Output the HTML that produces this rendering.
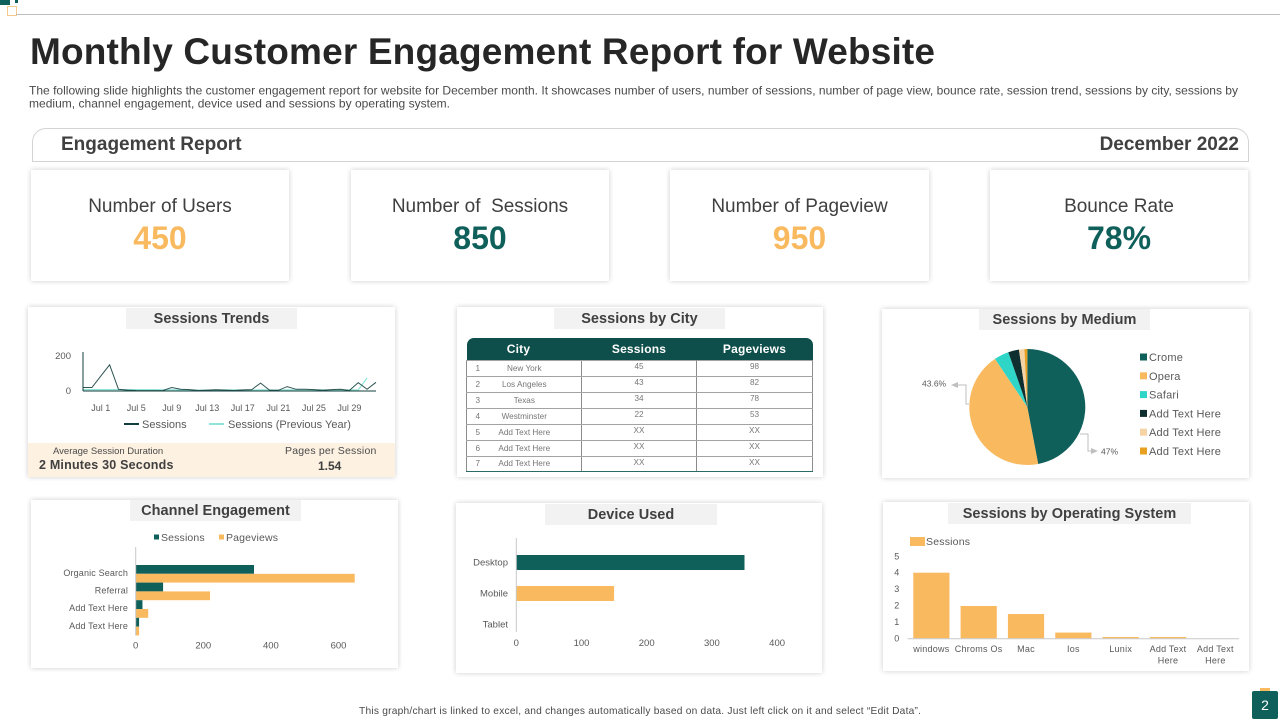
<!DOCTYPE html>
<html lang="en">
<head>
<meta charset="utf-8">
<title>Monthly Customer Engagement Report for Website</title>
<style>
html,body{margin:0;padding:0;background:#fff;}
body{width:1280px;height:720px;position:relative;overflow:hidden;font-family:"Liberation Sans",sans-serif;color:#404040;}
.abs{position:absolute;white-space:nowrap;}
.panel{position:absolute;background:#fff;box-shadow:0 0 5px rgba(0,0,0,.2);}
.ttl{position:absolute;background:#f2f2f2;font-weight:bold;font-size:14.5px;letter-spacing:.03px;color:#404040;text-align:center;line-height:22px;height:21px;white-space:nowrap;}
.card{position:absolute;top:170px;height:111px;background:#fff;box-shadow:0 0 5px rgba(0,0,0,.2);text-align:center;}
.card .lb{position:absolute;left:0;right:0;top:26px;font-size:19px;line-height:22px;color:#404040;white-space:pre;}
.card .vl{position:absolute;left:0;right:0;top:49px;font-size:32px;line-height:38px;font-weight:bold;}
svg.full{position:absolute;left:0;top:0;width:1280px;height:720px;overflow:visible;}
table{position:absolute;left:466px;top:338px;width:346px;border-collapse:collapse;table-layout:fixed;font-size:8.2px;color:#777;}
th{background:#0f4f4b;color:#fff;font-size:12px;font-weight:bold;height:22px;padding:0;letter-spacing:.2px;}
th:first-child{border-top-left-radius:7px;}
th:last-child{border-top-right-radius:7px;}
td{height:15px;padding:0;text-align:center;border-top:1px solid #a3a3a3;border-bottom:1px solid #a3a3a3;line-height:10px;}
td.v{border-left:1px solid #8c8c8c;border-right:1px solid #8c8c8c;vertical-align:top;padding-top:1px;height:14px;}
td.i{border-left:1px solid #8c8c8c;}
tr:last-child td{border-bottom:1px solid #2c6a66;height:14px;}
tr:last-child td.v{height:13px;}
</style>
</head>
<body>

<div class="abs" style="left:0;top:0;width:10px;height:5px;background:#0f5f5a;"></div>
<div class="abs" style="left:15px;top:0;width:3px;height:3px;background:#0f5f5a;"></div>
<div class="abs" style="left:7px;top:6px;width:8px;height:8px;border:1px solid #f5c98a;"></div>
<div class="abs" style="left:16px;top:14px;width:1264px;height:1px;background:#bdbdbd;"></div>

<svg class="full" viewBox="0 0 1280 720">
  <text x="30" y="64" font-size="37" font-weight="bold" fill="#262626" textLength="905" lengthAdjust="spacing">Monthly Customer Engagement Report for Website</text>
  <text x="29" y="94.5" font-size="12" fill="#4a4a4a" textLength="1209" lengthAdjust="spacing">The following slide highlights the customer engagement report for website for December month. It showcases number of users, number of sessions, number of page view, bounce rate, session trend, sessions by city,  sessions by</text>
  <text x="29" y="107.5" font-size="12" fill="#4a4a4a" textLength="421" lengthAdjust="spacing">medium, channel engagement, device used and sessions by operating system.</text>
  <text x="359" y="714" font-size="10.2" fill="#4a4a4a" textLength="562" lengthAdjust="spacing">This graph/chart is linked to excel, and changes automatically based on data. Just left click on it and select “Edit Data”.</text>
</svg>

<div class="abs" style="left:32px;top:128px;width:1215px;height:32px;border:1px solid #d4d4d4;border-radius:14px 14px 0 0;"></div>
<div class="abs" style="left:61px;top:133px;font-size:19px;line-height:24px;font-weight:bold;color:#404040;">Engagement Report</div>
<div class="abs" style="right:41px;top:133px;font-size:19px;line-height:24px;font-weight:bold;color:#404040;">December 2022</div>

<div class="card" style="left:31px;width:258px;">
  <div class="lb">Number of Users</div>
  <div class="vl" style="color:#f9b95f;">450</div>
</div>
<div class="card" style="left:351px;width:258px;">
  <div class="lb">Number of  Sessions</div>
  <div class="vl" style="color:#0f5f5a;">850</div>
</div>
<div class="card" style="left:670px;width:259px;">
  <div class="lb">Number of Pageview</div>
  <div class="vl" style="color:#f9b95f;">950</div>
</div>
<div class="card" style="left:990px;width:258px;">
  <div class="lb">Bounce Rate</div>
  <div class="vl" style="color:#0f5f5a;">78%</div>
</div>

<div class="panel" style="left:28px;top:307px;width:367px;height:170px;"></div>
<div class="abs" style="left:28px;top:443px;width:367px;height:34px;background:#fdf1e1;"></div>
<div class="ttl" style="left:126px;top:308px;width:171px;">Sessions Trends</div>
<div class="abs" style="left:53px;top:446px;font-size:9.5px;line-height:12px;color:#4a4a4a;">Average Session Duration</div>
<div class="abs" style="left:39px;top:458px;font-size:12.5px;line-height:15px;font-weight:bold;letter-spacing:.2px;color:#404040;">2 Minutes 30 Seconds</div>
<div class="abs" style="left:285px;top:445px;font-size:10.5px;line-height:13px;letter-spacing:.2px;color:#4a4a4a;">Pages per Session</div>
<div class="abs" style="left:318px;top:459px;font-size:12px;line-height:15px;font-weight:bold;color:#404040;">1.54</div>

<div class="panel" style="left:457px;top:307px;width:366px;height:170px;"></div>
<div class="ttl" style="left:554px;top:308px;width:171px;">Sessions by City</div>
<table>
  <colgroup><col style="width:22px"><col style="width:93px"><col style="width:115px"><col style="width:116px"></colgroup>
  <tr>
    <th colspan="2" style="padding-right:11px;">City</th>
    <th>Sessions</th>
    <th>Pageviews</th>
  </tr>
  <tr><td class="i">1</td><td style="padding-right:21px">New York</td><td class="v">45</td><td class="v">98</td></tr>
  <tr><td class="i">2</td><td style="padding-right:21px">Los Angeles</td><td class="v">43</td><td class="v">82</td></tr>
  <tr><td class="i">3</td><td style="padding-right:21px">Texas</td><td class="v">34</td><td class="v">78</td></tr>
  <tr><td class="i">4</td><td style="padding-right:21px">Westminster</td><td class="v">22</td><td class="v">53</td></tr>
  <tr><td class="i">5</td><td style="padding-right:21px">Add Text Here</td><td class="v">XX</td><td class="v">XX</td></tr>
  <tr><td class="i">6</td><td style="padding-right:21px">Add Text Here</td><td class="v">XX</td><td class="v">XX</td></tr>
  <tr><td class="i">7</td><td style="padding-right:21px">Add Text Here</td><td class="v">XX</td><td class="v">XX</td></tr>
</table>

<div class="panel" style="left:882px;top:309px;width:367px;height:169px;"></div>
<div class="ttl" style="left:979px;top:309px;width:171px;">Sessions by Medium</div>

<div class="panel" style="left:31px;top:500px;width:367px;height:168px;"></div>
<div class="ttl" style="left:130px;top:500px;width:171px;">Channel Engagement</div>

<div class="panel" style="left:456px;top:503px;width:366px;height:170px;"></div>
<div class="ttl" style="left:545px;top:504px;width:172px;line-height:23px;">Device Used</div>

<div class="panel" style="left:883px;top:502px;width:366px;height:169px;"></div>
<div class="ttl" style="left:948px;top:503px;width:243px;">Sessions by Operating System</div>

<svg class="full" id="trend" viewBox="0 0 1280 720"></svg>
<svg class="full" id="pie" viewBox="0 0 1280 720"></svg>
<svg class="full" id="channel" viewBox="0 0 1280 720"></svg>
<svg class="full" id="device" viewBox="0 0 1280 720"></svg>
<svg class="full" id="os" viewBox="0 0 1280 720"></svg>

<div class="abs" style="left:1260px;top:688px;width:10px;height:3px;background:#f9b95f;"></div>
<div class="abs" style="left:1252px;top:691px;width:26px;height:28px;background:#0f5f5a;color:#fff;font-size:14px;line-height:28px;text-align:center;border-radius:2px;">2</div>

<script>
/* Sessions trends */
const trendDates = ['Jun 29','Jun 30','Jul 1','Jul 2','Jul 3','Jul 4','Jul 5','Jul 6','Jul 7','Jul 8','Jul 9','Jul 10','Jul 11','Jul 12','Jul 13','Jul 14','Jul 15','Jul 16','Jul 17','Jul 18','Jul 19','Jul 20','Jul 21','Jul 22','Jul 23','Jul 24','Jul 25','Jul 26','Jul 27','Jul 28','Jul 29','Jul 30','Jul 31','Aug 1'];
const trendSessions = [20,20,85,150,10,5,3,2,2,3,20,10,8,3,5,7,5,3,6,8,45,5,4,25,10,10,8,4,8,10,3,48,10,50];
const trendPrevious = [8,8,8,8,8,8,8,8,8,7,7,6,6,5,5,6,7,6,5,5,6,6,5,6,7,7,6,6,5,5,6,5,75];
const trendTicks = ['Jul 1','Jul 5','Jul 9','Jul 13','Jul 17','Jul 21','Jul 25','Jul 29'];
const trendYTicks = [0,200];
/* Sessions by medium */
const mediumNames = ['Crome','Opera','Safari','Add Text Here','Add Text Here','Add Text Here'];
const mediumShares = [47,43.6,4.1,3,1.5,0.8];
/* Channel engagement */
const channelNames = ['Organic Search','Referral','Add Text Here','Add Text Here'];
const channelSessions = [350,81,20,10];
const channelPageviews = [648,220,37,10];
const channelTicks = [0,200,400,600];
/* Device used */
const deviceNames = ['Desktop','Mobile','Tablet'];
const deviceValues = [350,150,0];
const deviceTicks = [0,100,200,300,400];
/* Sessions by operating system */
const osNames = [['windows'],['Chroms Os'],['Mac'],['Ios'],['Lunix'],['Add Text','Here'],['Add Text','Here']];
const osValues = [4,1.97,1.48,0.35,0.08,0.08,0];
const osTicks = [0,1,2,3,4,5];

const NS = 'http://www.w3.org/2000/svg';
const TEAL = '#0f5f5a', ORANGE = '#f9b95f', GREY = '#595959';
function mk(parent, tag, attrs, text) {
  const el = document.createElementNS(NS, tag);
  for (const k in attrs) el.setAttribute(k, attrs[k]);
  if (text !== undefined) el.textContent = text;
  parent.appendChild(el);
  return el;
}

/* ---------- Trend line chart ---------- */
(function () {
  const svg = document.getElementById('trend');
  const x = i => 83 + i * 293 / 33;
  const y = v => 391 - v * 35 / 200;
  const path = vals => vals.map((v, i) => (i ? 'L' : 'M') + x(i).toFixed(1) + ' ' + y(v).toFixed(1)).join(' ');

  const prev = mk(svg, 'path', { d: path(trendPrevious), fill: 'none', stroke: '#8fe3d8', 'stroke-width': 1.2 });
  
  

  const cur = mk(svg, 'path', { d: path(trendSessions), fill: 'none', stroke: '#2f5553', 'stroke-width': 1 });
  
  

  const yAxis = mk(svg, 'line', { x1: x(0), x2: x(0), y1: 352, y2: y(0), stroke: '#123f3c', 'stroke-width': 1 });
  
  

  const xAxis = mk(svg, 'line', { x1: x(0), x2: x(33), y1: y(0), y2: y(0), stroke: '#123f3c', 'stroke-width': 1 });
  
  

  trendYTicks.forEach(v => {
    const t = mk(svg, 'text', { x: 71, y: y(v) + 3, 'text-anchor': 'end', 'font-size': 9.5, fill: GREY }, String(v));
    
    
  });
  trendTicks.forEach(lbl => {
    const t = mk(svg, 'text', { x: x(trendDates.indexOf(lbl)), y: 411, 'text-anchor': 'middle', 'font-size': 9, fill: GREY }, lbl);
    
    
  });

  const k1 = mk(svg, 'rect', { x: 124, y: 423, width: 15, height: 2, fill: '#123f3c' });
  
  
  const l1 = mk(svg, 'text', { x: 142, y: 428, 'font-size': 11, fill: GREY }, 'Sessions');
  
  
  const k2 = mk(svg, 'rect', { x: 209, y: 423, width: 15, height: 2, fill: '#8fe3d8' });
  
  
  const l2 = mk(svg, 'text', { x: 228, y: 428, 'font-size': 11, fill: GREY }, 'Sessions (Previous Year)');
  
  
})();

/* ---------- Pie chart ---------- */
(function () {
  const svg = document.getElementById('pie');
  const colors = [TEAL, ORANGE, '#2fd6c8', '#0f2e30', '#f5d3a5', '#e8a020'];
  const cx = 1027.3, cy = 407, r = 58;
  const total = mediumShares.reduce((a, b) => a + b, 0);
  let acc = 0;
  const pt = f => [cx + r * Math.sin(f * 2 * Math.PI), cy - r * Math.cos(f * 2 * Math.PI)];
  mediumShares.forEach((v, i) => {
    const a = acc / total, b = (acc + v) / total;
    acc += v;
    const p0 = pt(a), p1 = pt(b);
    const s = mk(svg, 'path', {
      d: `M${cx} ${cy} L${p0[0].toFixed(2)} ${p0[1].toFixed(2)} A${r} ${r} 0 ${b - a > 0.5 ? 1 : 0} 1 ${p1[0].toFixed(2)} ${p1[1].toFixed(2)} Z`,
      fill: colors[i]
    });
    
    
  });
  mediumNames.forEach((n, i) => {
    const ry = 357 + i * 18.8;
    const sw = mk(svg, 'rect', { x: 1140, y: ry - 3.5, width: 7, height: 7, fill: colors[i] });
    
    
    const t = mk(svg, 'text', { x: 1149, y: ry + 4, 'font-size': 11, fill: GREY, 'letter-spacing': 0.2 }, n);
    
    
  });

  const lead1 = mk(svg, 'path', { d: 'M969 404 H966 V385 H954', fill: 'none', stroke: '#bfbfbf', 'stroke-width': 1 });
  
  
  const arrow1 = mk(svg, 'path', { d: 'M951 385 L958 382 V388 Z', fill: '#bfbfbf' });
  
  
  const lab1 = mk(svg, 'text', { x: 922, y: 386.5, 'font-size': 8.5, fill: GREY }, mediumShares[1] + '%');
  
  

  const lead2 = mk(svg, 'path', { d: 'M1080 434 H1088 V451 H1094', fill: 'none', stroke: '#bfbfbf', 'stroke-width': 1 });
  
  
  const arrow2 = mk(svg, 'path', { d: 'M1098 451 L1091 448 V454 Z', fill: '#bfbfbf' });
  
  
  const lab2 = mk(svg, 'text', { x: 1101, y: 454.5, 'font-size': 8.5, fill: GREY }, mediumShares[0] + '%');
  
  
})();

/* ---------- Channel grouped bars ---------- */
(function () {
  const svg = document.getElementById('channel');
  const x = v => 135.7 + v * 0.338;
  const band = 17.6, top = 565;
  channelNames.forEach((n, i) => {
    const y0 = top + i * band;
    const a = mk(svg, 'rect', { x: x(0), y: y0, width: x(channelSessions[i]) - x(0), height: band / 2, fill: TEAL });
    
    
    const b = mk(svg, 'rect', { x: x(0), y: y0 + band / 2, width: x(channelPageviews[i]) - x(0), height: band / 2, fill: ORANGE });
    
    
    const t = mk(svg, 'text', { x: 128, y: y0 + band / 2 + 2.2, 'text-anchor': 'end', 'font-size': 9, fill: GREY, 'letter-spacing': 0.15 }, n);
    
    
  });
  const ax = mk(svg, 'line', { x1: x(0), x2: x(0), y1: 547, y2: 635.5, stroke: '#c8c8c8', 'stroke-width': 1 });
  
  
  channelTicks.forEach(v => {
    const t = mk(svg, 'text', { x: x(v), y: 648.5, 'text-anchor': 'middle', 'font-size': 9.5, fill: GREY }, String(v));
    
    
  });
  const s1 = mk(svg, 'rect', { x: 154, y: 534.5, width: 5, height: 5, fill: TEAL });
  
  
  const t1 = mk(svg, 'text', { x: 161, y: 541, 'font-size': 10.5, fill: GREY, 'letter-spacing': 0.15 }, 'Sessions');
  
  
  const s2 = mk(svg, 'rect', { x: 219, y: 534.5, width: 5, height: 5, fill: ORANGE });
  
  
  const t2 = mk(svg, 'text', { x: 226, y: 541, 'font-size': 10.5, fill: GREY, 'letter-spacing': 0.15 }, 'Pageviews');
  
  
})();

/* ---------- Device bars ---------- */
(function () {
  const svg = document.getElementById('device');
  const x = v => 516.3 + v * 0.652;
  const colors = [TEAL, ORANGE, TEAL];
  const yc = i => 562.5 + i * 31;
  deviceNames.forEach((n, i) => {
    const b = mk(svg, 'rect', { x: x(0), y: yc(i) - 7.5, width: x(deviceValues[i]) - x(0), height: 15, fill: colors[i] });
    
    
    const t = mk(svg, 'text', { x: 508, y: yc(i) + 3, 'text-anchor': 'end', 'font-size': 9.5, fill: GREY }, n);
    
    
  });
  const ax = mk(svg, 'line', { x1: x(0), x2: x(0), y1: 538, y2: 632, stroke: '#c8c8c8', 'stroke-width': 1 });
  
  
  deviceTicks.forEach(v => {
    const t = mk(svg, 'text', { x: x(v), y: 646, 'text-anchor': 'middle', 'font-size': 9.5, fill: GREY }, String(v));
    
    
  });
})();

/* ---------- OS columns ---------- */
(function () {
  const svg = document.getElementById('os');
  const y = v => 638.3 - v * 16.4;
  const band = 47.33, left = 907.7;
  osNames.forEach((lines, i) => {
    const cx = left + band * (i + 0.5);
    const b = mk(svg, 'rect', { x: cx - 18.1, y: y(osValues[i]), width: 36.2, height: y(0) - y(osValues[i]), fill: ORANGE });
    
    
    lines.forEach((ln, j) => {
      const t = mk(svg, 'text', { x: cx, y: 652 + j * 11.5, 'text-anchor': 'middle', 'font-size': 9, fill: GREY, 'letter-spacing': 0.25 }, ln);
      
      
    });
  });
  const ax = mk(svg, 'line', { x1: left, x2: 1239, y1: y(0) + 0.5, y2: y(0) + 0.5, stroke: '#c8c8c8', 'stroke-width': 1 });
  
  
  osTicks.forEach(v => {
    const t = mk(svg, 'text', { x: 896.7, y: y(v) + 3, 'text-anchor': 'middle', 'font-size': 9, fill: GREY }, String(v));
    
    
  });
  const sw = mk(svg, 'rect', { x: 910, y: 537, width: 15, height: 9, fill: ORANGE });
  
  
  const lb = mk(svg, 'text', { x: 926, y: 545, 'font-size': 10.5, fill: GREY, 'letter-spacing': 0.2 }, 'Sessions');
  
  
})();
</script>
</body>
</html>
